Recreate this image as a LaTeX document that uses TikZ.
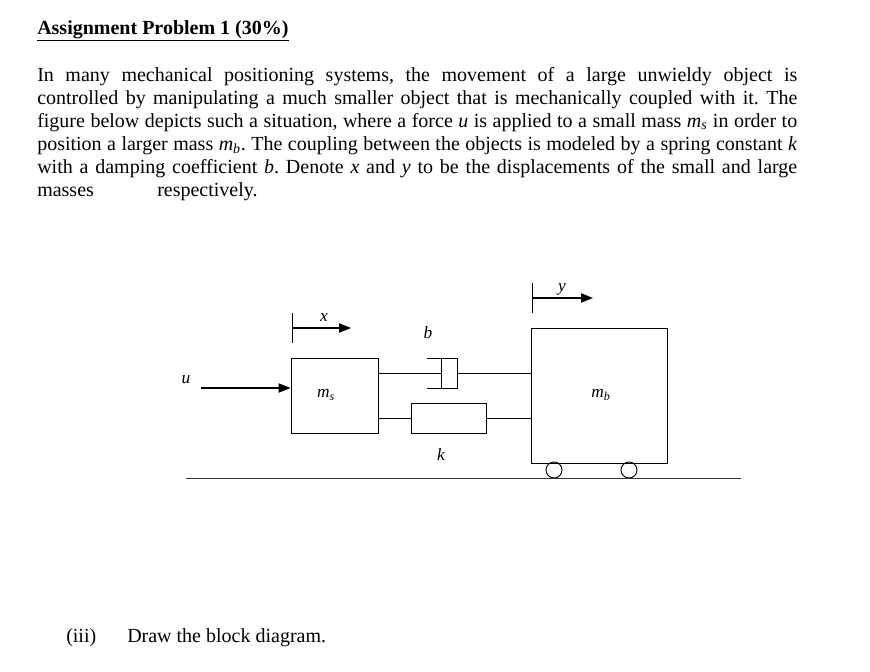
\documentclass[tikz,border=0pt]{standalone}
\usepackage{fontspec}
\setmainfont{Liberation Serif}
\usetikzlibrary{arrows.meta}
\tikzset{
  txt/.style={anchor=base west,inner sep=0pt,font=\fontsize{15}{17}\selectfont},
  lbl/.style={inner sep=0pt,font=\fontsize{13}{15}\selectfont\itshape},
  box/.style={draw,line width=0.7pt,inner sep=0pt},
  ln/.style={line width=0.7pt},
  arr/.style={line width=0.9pt,-{Triangle[length=9pt,width=7pt]}}
}
\newcommand{\jline}[1]{\makebox[570pt][s]{#1}}
\begin{document}
\frenchspacing
\begin{tikzpicture}[x=0.75pt,y=-0.75pt]
\useasboundingbox (0,0) rectangle (870,671);
\node[txt,font=\fontsize{15}{17}\selectfont\bfseries] (title) at (37,34) {\underline{Assignment Problem 1 (30\%)}};
\node[txt] (l1) at (37,81) {\jline{In many mechanical positioning systems, the movement of a large unwieldy object is}};
\node[txt] (l2) at (37,104) {\jline{controlled by manipulating a much smaller object that is mechanically coupled with it. The}};
\node[txt] (l3) at (37,127) {\jline{figure below depicts such a situation, where a force \textit{u} is applied to a small mass \textit{m\textsubscript{s}} in order to}};
\node[txt] (l4) at (37,150) {\jline{position a larger mass \textit{m\textsubscript{b}}. The coupling between the objects is modeled by a spring constant \textit{k}}};
\node[txt] (l5) at (37,173) {\jline{with a damping coefficient \textit{b}. Denote \textit{x} and \textit{y} to be the displacements of the small and large}};
\node[txt] (l6a) at (37,196) {masses};
\node[txt] (l6b) at (157,196) {respectively.};
\node[txt] (q1) at (66,642) {(iii)};
\node[txt] (q2) at (127,642) {Draw the block diagram.};

% masses
\node[box,minimum width=87*0.75pt,minimum height=75*0.75pt] (ms) at (334.5,395.5) {};
\node[lbl] (mslab) at (326,395) {m\textsubscript{s}};
\node[box,minimum width=136*0.75pt,minimum height=135*0.75pt] (mb) at (599,395.5) {};
\node[lbl] (mblab) at (601,395) {m\textsubscript{b}};
% spring
\node[box,minimum width=75*0.75pt,minimum height=30*0.75pt] (spr) at (448.5,418) {};
\node[lbl] (k) at (441,454) {k};
\draw[ln] (ms.east |- spr.west) -- (spr.west);
\draw[ln] (spr.east) -- (mb.west |- spr.east);
% damper
\coordinate (dp) at (441,373);
\coordinate (dc) at (457,373);
\draw[ln] (ms.east |- dp) -- (dp);
\draw[ln] (441,358) -- (441,388);
\draw[ln] (427,358) -- (457,358) -- (457,388) -- (427,388);
\draw[ln] (dc) -- (mb.west |- dc);
\node[lbl] (b) at (428,333) {b};
% input
\coordinate (uin) at (201,388);
\draw[arr] (uin) -- (ms.west |- uin);
\node[lbl] (u) at (186,380) {u};
% x marker
\draw[ln] (292,313) -- (292,343);
\coordinate (xs) at (292,328);
\coordinate (xe) at (351,328);
\draw[arr] (xs) -- (xe);
\node[lbl] (x) at (324,318) {x};
% y marker
\draw[ln] (532,283) -- (532,313);
\coordinate (ys) at (532,298);
\coordinate (ye) at (593,298);
\draw[arr] (ys) -- (ye);
\node[lbl] (y) at (562,289) {y};
% wheels and ground
\node[draw,circle,line width=0.7pt,minimum size=16*0.75pt,inner sep=0pt] (w1) at (554,470) {};
\node[draw,circle,line width=0.7pt,minimum size=16*0.75pt,inner sep=0pt] (w2) at (629,470) {};
\draw[ln,black!80] (186,478) -- (741,478);
\end{tikzpicture}
\end{document}
